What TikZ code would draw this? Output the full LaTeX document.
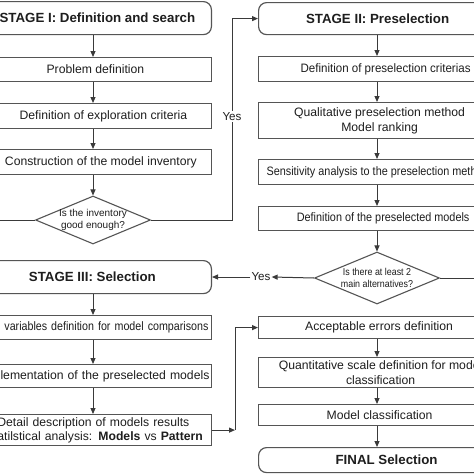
\documentclass[tikz,border=0pt]{standalone}
\usepackage{fontspec}
\setmainfont{Liberation Sans}
\newfontfamily\condA{Liberation Sans}[FakeStretch=0.89]
\newfontfamily\condB{Liberation Sans}[FakeStretch=0.946]
\newfontfamily\condC{Liberation Sans}[FakeStretch=0.876]
\usetikzlibrary{shapes.geometric,arrows.meta}
\definecolor{boxgray}{HTML}{555555}
\definecolor{linegray}{HTML}{3A3A3A}
\definecolor{txt}{HTML}{1E1E1E}
\newcommand\fsz[2]{\fontsize{#1}{#2}\selectfont}
\begin{document}
\begin{tikzpicture}[x=1pt,y=-1pt,
  box/.style={draw=boxgray, line width=1.2pt, inner xsep=2pt, inner ysep=0pt,
    text=txt, font=\fsz{12.2}{14.5}, align=center},
  stagebox/.style={box, rounded corners=8pt, font=\bfseries\fsz{13.3}{15}},
  lbox/.style={box, anchor=north east},
  rbox/.style={box, anchor=north west},
  dec/.style={draw=boxgray, line width=1.1pt, diamond, shape aspect=2.4,
    inner xsep=-10pt, inner ysep=-8pt, align=center, text=txt, font=\fsz{10}{12.5}},
  arr/.style={draw=linegray, line width=1pt, -{Triangle[length=6pt,width=5pt]}},
  ln/.style={draw=linegray, line width=1pt},
  yeslbl/.style={fill=white, text=txt, font=\fsz{11.6}{13}, inner sep=1pt}
]
\fill[white] (0,0) rectangle (474,474);
\useasboundingbox (0,0) rectangle (474,474);
\clip (0,0) rectangle (474,474);

% column coordinates
\coordinate (c1) at (93,0);
\coordinate (c2) at (377,0);
\coordinate (cy) at (232,0);
\coordinate (cd) at (235,0);
\coordinate (lfree) at (-6,220);
\coordinate (rfree) at (480,278);

% ---- Stage I ----
\node[lbox, stagebox, minimum width=228pt, minimum height=33pt] (s1) at (212,1) {STAGE I: Definition and search};
\node[lbox, minimum width=232pt, minimum height=24pt] (p1) at (212,57) {Problem definition};
\node[lbox, minimum width=216pt, minimum height=25pt] (p2) at (212,103) {Definition of exploration criteria};
\node[lbox, minimum width=221pt, minimum height=25pt] (p3) at (212,149) {Construction of the model inventory};
\node[dec, minimum width=115pt, minimum height=48pt] (d1) at (93,220) {Is the inventory\\good enough?};

% ---- Stage II ----
\node[rbox, stagebox, minimum width=238pt, minimum height=32pt] (s2) at (258,2) {STAGE II: Preselection};
\node[rbox, minimum width=254pt, minimum height=25pt, font=\condB\fsz{12.2}{14.5}] (r1) at (258,56) {Definition of preselection criterias};
\node[rbox, minimum width=242pt, minimum height=36pt] (r2) at (258,102) {Qualitative preselection method\\Model ranking};
\node[rbox, minimum width=238pt, minimum height=25pt, font=\condA\fsz{12.2}{14.5}] (r3) at (258,159) {Sensitivity analysis to the preselection method};
\node[rbox, minimum width=249pt, minimum height=24pt, font=\condA\fsz{12.2}{14.5}] (r4) at (258,206) {Definition of the preselected models};
\node[dec, minimum width=125pt, minimum height=52pt, font=\condA\fsz{10}{12.5}] (d2) at (377,278) {Is there at least 2\\main alternatives?};

% ---- Stage III ----
\node[lbox, stagebox, minimum width=238pt, minimum height=33pt] (s3) at (212,260) {STAGE III: Selection};
\node[lbox, text width=232pt, align=right, inner xsep=3pt, minimum height=24pt, font=\condC\fsz{12.2}{14.5}] (q1) at (212,315) {e variables definition for model comparisons};
\node[lbox, text width=230pt, align=right, inner xsep=2pt, minimum height=23pt] (q2) at (212,364) {plementation of the preselected models};
\node[lbox, text width=212pt, align=left, inner xsep=2pt, minimum height=31pt] (q3) at (212,414) {Detail description of models results\\atilstical analysis: \textbf{Models} vs \textbf{Pattern}};

% ---- Final part ----
\node[rbox, minimum width=241pt, minimum height=22pt] (r5) at (258,316) {Acceptable errors definition};
\node[rbox, minimum width=244pt, minimum height=30pt] (r6) at (258,357) {Quantitative scale definition for model\\classification};
\node[rbox, minimum width=242pt, minimum height=21pt] (r7) at (258,404) {Model classification};
\node[rbox, stagebox, minimum width=256pt, minimum height=25pt] (r8) at (258,447) {FINAL Selection};

\node[yeslbl] (y2) at (261,277) {Yes};

% ---- connectors, left column ----
\draw[arr] (s1.south -| c1) -- (p1.north -| c1);
\draw[arr] (p1.south -| c1) -- (p2.north -| c1);
\draw[arr] (p2.south -| c1) -- (p3.north -| c1);
\draw[arr] (p3.south -| c1) -- (d1.north);
\draw[ln] (d1.west) -- (lfree);
\draw[arr] (d1.east) -- (d1.east -| cy) |- node[yeslbl, pos=0.257] (y1) {Yes} (s2.west);

\draw[arr] (s3.south -| c1) -- (q1.north -| c1);
\draw[arr] (q1.south -| c1) -- (q2.north -| c1);
\draw[arr] (q2.south -| c1) -- (q3.north -| c1);
\draw[arr] (q3.east) -- (q3.east -| cd);
\draw[arr] (q3.east -| cd) |- (r5.west);

% ---- connectors, right column ----
\draw[arr] (s2.south -| c2) -- (r1.north -| c2);
\draw[arr] (r1.south -| c2) -- (r2.north -| c2);
\draw[arr] (r2.south -| c2) -- (r3.north -| c2);
\draw[arr] (r3.south -| c2) -- (r4.north -| c2);
\draw[arr] (r4.south -| c2) -- (d2.north);
\draw[arr] (d2.west) -- (y2.east);
\draw[arr] (y2.west) -- (y2.west -| s3.east);
\draw[ln] (d2.east) -- (rfree);

\draw[arr] (r5.south -| c2) -- (r6.north -| c2);
\draw[arr] (r6.south -| c2) -- (r7.north -| c2);
\draw[arr] (r7.south -| c2) -- (r8.north -| c2);
\end{tikzpicture}
\end{document}
